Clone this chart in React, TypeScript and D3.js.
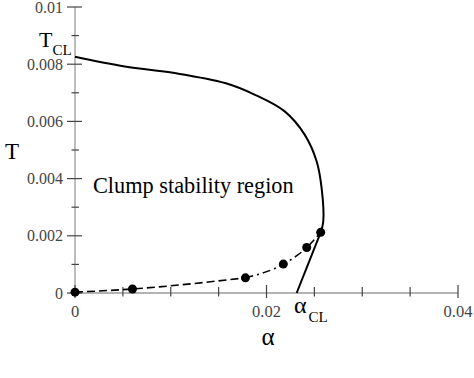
import React from "react";
import * as d3 from "d3";

const xTicksMajor = [0, 0.02, 0.04];
const xTickLabels = ["0", "0.02", "0.04"];
const xTicksMinor = [0.005, 0.01, 0.015, 0.025, 0.03, 0.035];
const yTicksMajor = [0, 0.002, 0.004, 0.006, 0.008, 0.01];
const yTickLabels = ["0", "0.002", "0.004", "0.006", "0.008", "0.01"];
const yTicksMinor = [0.001, 0.003, 0.005, 0.007, 0.009];

// solid boundary curve (alpha, T)
const boundaryAlpha = [0, 0.0052, 0.0104, 0.01567, 0.0188, 0.0219, 0.024, 0.02524, 0.02576, 0.02593, 0.02566];
const boundaryT = [0.00826, 0.00792, 0.00769, 0.00734, 0.00693, 0.00635, 0.00553, 0.0046, 0.00366, 0.0025, 0.00212];

// dotted data points
const dotAlpha = [0, 0.006, 0.0178, 0.02176, 0.0242, 0.02566];
const dotT = [0.00003, 0.00014, 0.00053, 0.00101, 0.00159, 0.00212];

// lower solid branch from alpha_CL
const branchAlpha = [0.02315, 0.02566];
const branchT = [0, 0.00212];

export default function App() {
  const W = 474, H = 378;
  const x = d3.scaleLinear().domain([0, 0.04]).range([75, 458]);
  const y = d3.scaleLinear().domain([0, 0.01]).range([293, 7]);
  const axisColor = "#9a9a9a";
  const tickColor = "#444";
  const fs = { fontFamily: '"Liberation Serif", "Times New Roman", "DejaVu Serif", serif' };

  const boundary = boundaryAlpha.map((a, i) => [a, boundaryT[i]] as [number, number]);
  const dots = dotAlpha.map((a, i) => [a, dotT[i]] as [number, number]);
  const branch = branchAlpha.map((a, i) => [a, branchT[i]] as [number, number]);

  const lineCR = d3.line<[number, number]>().x(d => x(d[0])).y(d => y(d[1])).curve(d3.curveCatmullRom.alpha(0.5));
  const lineMono = d3.line<[number, number]>().x(d => x(d[0])).y(d => y(d[1])).curve(d3.curveMonotoneX);
  const lineStraight = d3.line<[number, number]>().x(d => x(d[0])).y(d => y(d[1]));

  return (
    <svg width={W} height={H} style={{ position: "absolute", left: 0, top: 0, background: "#fff" }}>
      {/* axes */}
      <line x1={x(0)} x2={x(0)} y1={y(0.01)} y2={y(0)} stroke={axisColor} strokeWidth={1.3} />
      <line x1={x(0)} x2={x(0.04)} y1={y(0)} y2={y(0)} stroke={axisColor} strokeWidth={1.3} />
      {yTicksMajor.map(t => (
        <line key={"ym" + t} x1={x(0) - 8} x2={x(0) + 7} y1={y(t)} y2={y(t)} stroke={tickColor} strokeWidth={1.2} />
      ))}
      {yTicksMinor.map(t => (
        <line key={"yn" + t} x1={x(0) - 3.5} x2={x(0) + 4} y1={y(t)} y2={y(t)} stroke={tickColor} strokeWidth={1.2} />
      ))}
      {xTicksMajor.map(t => (
        <line key={"xm" + t} x1={x(t)} x2={x(t)} y1={y(0) - 8} y2={y(0) + 5} stroke={tickColor} strokeWidth={1.2} />
      ))}
      {xTicksMinor.map(t => (
        <line key={"xn" + t} x1={x(t)} x2={x(t)} y1={y(0) - 6} y2={y(0) + 3.5} stroke={tickColor} strokeWidth={1.2} />
      ))}
      {yTicksMajor.map((t, i) => (
        <text key={"yl" + t} x={63} y={y(t) + 5.5} textAnchor="end" style={fs} fontSize={16} fill={tickColor}>
          {yTickLabels[i]}
        </text>
      ))}
      {xTicksMajor.map((t, i) => (
        <text key={"xl" + t} x={x(t)} y={317} textAnchor="middle" style={fs} fontSize={16.5} fill={tickColor}>
          {xTickLabels[i]}
        </text>
      ))}

      {/* curves */}
      <path d={lineCR(boundary) || ""} fill="none" stroke="#000" strokeWidth={2} />
      <path d={lineStraight(branch) || ""} fill="none" stroke="#000" strokeWidth={2} />
      <path d={lineMono(dots.slice(0, 3)) || ""} fill="none" stroke="#000" strokeWidth={1.6} strokeDasharray="8 4" />
      <path d={lineMono(dots.slice(2)) || ""} fill="none" stroke="#000" strokeWidth={1.6} strokeDasharray="8 4 2 4" />
      {dots.map((d, i) => (
        <circle key={"d" + i} cx={x(d[0])} cy={y(d[1])} r={4.5} fill="#000" />
      ))}

      {/* labels */}
      <text x={93} y={193} style={fs} fontSize={22.3} fill="#000">Clump stability region</text>
      <text x={12} y={159} textAnchor="middle" style={fs} fontSize={23} fill="#000">T</text>
      <text x={268} y={345} textAnchor="middle" style={fs} fontSize={25} fill="#000">α</text>
      <text x={39} y={47} style={fs} fontSize={22} fill="#000">
        T<tspan fontSize={15} dy={8}>CL</tspan>
      </text>
      <text x={294} y={313} style={fs} fontSize={24} fill="#000">
        α<tspan fontSize={15} dx={2} dy={9}>CL</tspan>
      </text>
    </svg>
  );
}
